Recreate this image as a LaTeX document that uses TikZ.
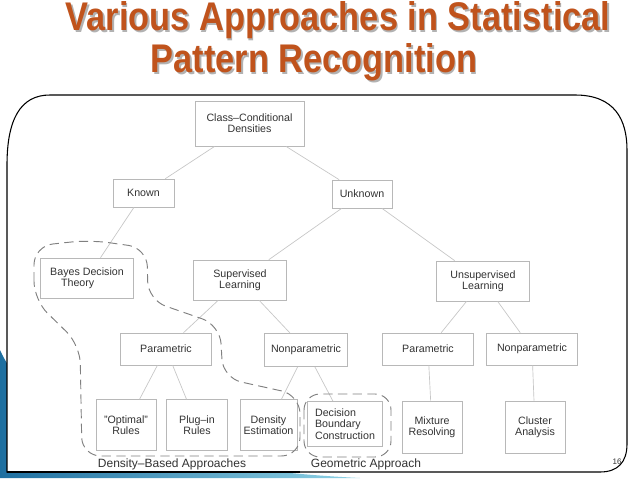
\documentclass[tikz,border=0pt]{standalone}
\usepackage{fontspec}
\setmainfont{Liberation Sans}
\usetikzlibrary{positioning}
\definecolor{titlec}{HTML}{C0531C}
\definecolor{boxc}{HTML}{B8B8B8}
\definecolor{txtc}{HTML}{333333}
\definecolor{deco1}{HTML}{1E6FA0}
\definecolor{deco2}{HTML}{8FD3E6}
\tikzset{
  bx/.style={draw=boxc, line width=0.5pt, fill=white, text=txtc, font=\fontsize{8}{8.5}\selectfont, align=center, inner sep=0pt},
  ln/.style={draw=boxc!80, line width=0.5pt},
  dsh/.style={draw=gray, line width=0.7pt, dash pattern=on 7pt off 4pt},
  ttl/.style={text=titlec, font=\fontsize{30}{31}\bfseries\selectfont},
  shd/.style={text=gray!60, font=\fontsize{30}{31}\bfseries\selectfont}
}
\begin{document}
\begin{tikzpicture}[x=0.75pt,y=-0.75pt]
\useasboundingbox (0,0) rectangle (638,478);
\fill[white] (0,0) rectangle (638,478);
% decoration
\shade[left color=deco1, right color=deco2] (0,350) .. controls (40,440) and (200,470) .. (360,478) -- (0,478) -- cycle;
% frame
\draw[black, line width=0.8pt, fill=white] (50,95) -- (575,95) .. controls (615,95) and (627,120) .. (627,150) -- (627,444) .. controls (627,462) and (618,472) .. (600,472) -- (7,472) -- (7,165) .. controls (7,120) and (20,95) .. (50,95) -- cycle;
\draw[black, line width=2pt] (7,472) -- (300,472);
% title
\node[shd] (t1s) at (339.5,22) {\scalebox{0.86}[1]{Various Approaches in Statistical}};
\node[ttl] (t1) at (338,20) {\scalebox{0.86}[1]{Various Approaches in Statistical}};
\node[shd] (t2s) at (315.5,64) {\scalebox{0.86}[1]{Pattern Recognition}};
\node[ttl] (t2) at (314,62) {\scalebox{0.86}[1]{Pattern Recognition}};
% nodes
\node[bx, minimum width=82, minimum height=34] (ccd) at (249.5,123.5) {Class--Conditional\\Densities};
\node[bx, minimum width=46, minimum height=21] (kn) at (143.5,193) {Known};
\node[bx, minimum width=45, minimum height=21] (un) at (362,194) {Unknown};
\node[bx, minimum width=70, minimum height=30] (bdt) at (87,278) {Bayes Decision\\\hspace*{-14pt}Theory};
\node[bx, minimum width=70, minimum height=30] (sl) at (240,280) {Supervised\\Learning};
\node[bx, minimum width=70, minimum height=30] (ul) at (483,281) {Unsupervised\\Learning};
\node[bx, minimum width=68, minimum height=24] (pl) at (166,349) {Parametric};
\node[bx, minimum width=62, minimum height=25] (npl) at (306,350) {Nonparametric};
\node[bx, minimum width=68, minimum height=24] (pr) at (428,349) {Parametric};
\node[bx, minimum width=68, minimum height=24] (npr) at (532,349) {Nonparametric};
\node[bx, minimum width=45, minimum height=38] (opt) at (126,425) {"Optimal"\\Rules};
\node[bx, minimum width=46, minimum height=38] (plug) at (197,425) {Plug--in\\Rules};
\node[bx, minimum width=43, minimum height=38] (de) at (268.5,425) {Density\\Estimation};
\node[bx, minimum width=56, minimum height=34, align=left] (dbc) at (345,424) {Decision\\Boundary\\Construction};
\node[bx, minimum width=45, minimum height=39] (mr) at (432,427) {Mixture\\Resolving};
\node[bx, minimum width=45, minimum height=39] (ca) at (535,427) {Cluster\\Analysis};
% connectors
\draw[ln] (ccd) -- (kn);
\draw[ln] (ccd) -- (un);
\draw[ln] (kn) -- (bdt);
\draw[ln] (un) -- (sl);
\draw[ln] (un) -- (ul);
\draw[ln] (sl) -- (pl);
\draw[ln] (sl) -- (npl);
\draw[ln] (ul) -- (pr);
\draw[ln] (ul) -- (npr);
\draw[ln] (pl) -- (opt);
\draw[ln] (pl) -- (plug);
\draw[ln] (npl) -- (de);
\draw[ln] (npl) -- (dbc);
\draw[ln] (pr) -- (mr);
\draw[ln] (npr) -- (ca);
% dashed regions
\draw[dsh, rounded corners=14] (34,300) -- (34,246) -- (90,240) -- (147,248) -- (148,300) -- (220,325) -- (223,378) -- (300,395) -- (300,456) -- (82,456) -- (80,345) -- cycle;
\draw[dsh, rounded corners=12] (304,394) rectangle (391,457);
% labels
\node[text=txtc, font=\fontsize{9}{10}\selectfont] (dba) at (172,464) {Density--Based Approaches};
\node[text=txtc, font=\fontsize{9}{10}\selectfont] (ga) at (366,464) {Geometric Approach};
\node[text=txtc, font=\fontsize{6}{7}\selectfont] (pg) at (617,462) {16};
\end{tikzpicture}
\end{document}
